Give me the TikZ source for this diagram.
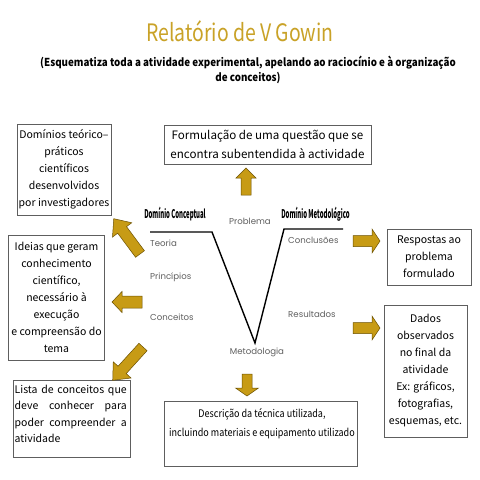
\documentclass[tikz,border=0pt]{standalone}
\usepackage{fontspec}
\setmainfont{Noto Sans CJK JP}
\newfontfamily\vfont{Poppins}
\usepackage{graphicx}
\definecolor{titlegold}{HTML}{C9A227}
\definecolor{arrfill}{HTML}{C79B15}
\definecolor{arredge}{HTML}{6B5000}
\definecolor{boxgray}{HTML}{5E5E5E}
\definecolor{vgray}{HTML}{606060}
\tikzset{
 box/.style={draw=boxgray, line width=0.9pt, inner sep=0pt, align=center, font=\fontsize{10.5}{17}\selectfont},
 vlabel/.style={font=\vfont\fontsize{8.6}{10}\selectfont, text=vgray, inner sep=0pt, anchor=west},
 dlabel/.style={font=\bfseries\fontsize{12}{12}\selectfont, inner sep=0pt},
 vline/.style={line width=1.4pt, black},
 goldarr/.style={fill=arrfill, draw=arredge, line width=0.5pt, line join=miter},
}
\newcommand{\garrow}[7]{%
 \draw[goldarr, shift={(#1,#2)}, rotate=#3] (0,-#5) -- ({#4-#7},-#5) -- ({#4-#7},-#6) -- (#4,0) -- ({#4-#7},#6) -- ({#4-#7},#5) -- (0,#5) -- cycle;}
\begin{document}
\begin{tikzpicture}[x=1pt,y=-1pt]
\useasboundingbox (0,0) rectangle (480,480);
\fill[white] (0,0) rectangle (480,480);
% title
\node[font=\fontsize{24}{28}\selectfont, text=titlegold, inner sep=0pt] (title) at (240,31) {\scalebox{0.81}[1]{Relatório de V Gowin}};
\node[font=\bfseries\fontsize{11}{15.5}\selectfont, align=center, inner sep=0pt] (sub) at (248,70) {\scalebox{0.89}[1]{(Esquematiza toda a atividade experimental, apelando ao raciocínio e à organização}\\\scalebox{0.89}[1]{de conceitos)}};
% boxes
\node[box, minimum width=94, minimum height=91] (dom) at (64,169.5) {Domínios teórico–\\práticos\\científicos\\desenvolvidos\\por investigadores};
\node[box, minimum width=207, minimum height=39, font=\fontsize{11.6}{18.5}\selectfont] (form) at (267.5,144.5) {Formulação de uma questão que se\\encontra subentendida à actividade};
\node[box, minimum width=96, minimum height=125] (ideias) at (56.5,297.5) {Ideias que geram\\conhecimento\\científico,\\necessário à\\execução\\e compreensão do\\tema};
\node[box, minimum width=117, minimum height=77] (lista) at (71.5,418.5) {};
\node[anchor=north west, inner sep=0pt, align=left, font=\fontsize{10.5}{16.3}\selectfont] (listat) at (14.5,385) {\makebox[112pt][s]{Lista\hfill de\hfill conceitos\hfill que}\\\makebox[112pt][s]{deve\hfill conhecer\hfill para}\\\makebox[112pt][s]{poder\hfill compreender\hfill a}\\atividade};
\node[box, minimum width=193, minimum height=65] (desc) at (260.5,433.5) {};
\node[anchor=north, inner sep=0pt, align=center, font=\fontsize{10.5}{19}\selectfont] (desct) at (262,408) {\scalebox{0.86}[1]{Descrição da técnica utilizada,}\\\scalebox{0.86}[1]{incluindo materiais e equipamento utilizado}};
\node[box, minimum width=84, minimum height=56] (resp) at (429,257) {Respostas ao\\problema\\formulado};
\node[box, minimum width=83, minimum height=132] (dados) at (425.5,371) {Dados\\observados\\no final da\\atividade\\Ex: gráficos,\\fotografias,\\esquemas, etc.};
% V diagram
\coordinate (vl) at (150,232);
\coordinate (vlc) at (212,232);
\coordinate (vb) at (255,343);
\coordinate (vrc) at (284,229);
\coordinate (vr) at (343,229);
\draw[vline] (vl) -- (vlc) -- (vb) -- (vrc) -- (vr);
\node[dlabel] (dc) at (175,214) {\scalebox{0.5}[1]{Domínio Conceptual}};
\node[dlabel] (dm) at (315.5,214) {\scalebox{0.5}[1]{Domínio Metodológico}};
\node[vlabel, anchor=center] (prob) at (250,221) {Problema};
\node[vlabel] (teo) at (150,243) {Teoria};
\node[vlabel] (pri) at (150,277) {Princípios};
\node[vlabel] (con) at (150,317) {Conceitos};
\node[vlabel, anchor=center] (met) at (257,352) {Metodologia};
\node[vlabel] (concl) at (288,240) {Conclusões};
\node[vlabel] (res) at (288,314) {Resultados};
% arrows
\garrow{246}{195}{90}{27}{5}{10}{10}
\garrow{247}{374}{-90}{22}{5}{11.5}{8}
\garrow{353}{241}{0}{27}{5.5}{12}{8}
\garrow{353}{328}{0}{27}{5.5}{12}{8}
\garrow{142}{302}{180}{30}{6}{10.5}{10}
\garrow{140}{254}{126.6}{44}{5.5}{12}{14}
\garrow{143}{347}{-132.3}{45}{5.5}{12}{14}
\end{tikzpicture}
\end{document}
